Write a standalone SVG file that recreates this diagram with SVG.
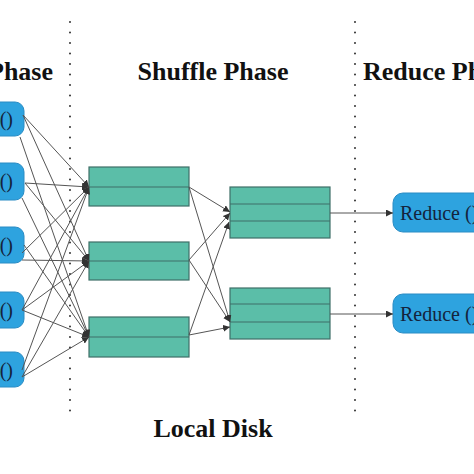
<svg xmlns="http://www.w3.org/2000/svg" width="474" height="474" viewBox="0 0 474 474">
<style>
.title{font-family:"Liberation Serif",serif;font-weight:bold;font-size:26px;fill:#111}
.node{fill:#2ea3df;stroke:#2a8cc4;stroke-width:1}
.lbl{font-family:"Liberation Serif",serif;font-size:20px;fill:#14243c}
.box{fill:#5bbea8;stroke:#3f6f68;stroke-width:1.2}
.div{stroke:#3f6f68;stroke-width:1.2}
.dot{stroke:#333;stroke-width:2;stroke-dasharray:0.1 10.4;stroke-linecap:round}
.c{stroke:#555;stroke-width:1;fill:none;marker-end:url(#ah)}
</style>
<defs>
<marker id="ah" viewBox="0 0 10 10" refX="10" refY="5" markerWidth="7" markerHeight="7" orient="auto" markerUnits="userSpaceOnUse">
<path d="M0,0 L10,5 L0,10 z" fill="#333"/>
</marker>
</defs>
<rect width="474" height="474" fill="#fff"/>
<line class="dot" x1="70" y1="22" x2="70" y2="412"/>
<line class="dot" x1="355" y1="22" x2="355" y2="412"/>
<text class="title" x="53" y="80" text-anchor="end">Map Phase</text>
<text class="title" x="213" y="80" text-anchor="middle">Shuffle Phase</text>
<text class="title" x="363" y="80">Reduce Phase</text>
<text class="title" x="213" y="437" text-anchor="middle">Local Disk</text>
<g id="map1"><rect class="node" x="-40" y="102" width="64" height="34" rx="9"/><text class="lbl" x="13" y="126" text-anchor="end">Map ()</text></g>
<g id="map2"><rect class="node" x="-40" y="163" width="64" height="37" rx="9"/><text class="lbl" x="13" y="188" text-anchor="end">Map ()</text></g>
<g id="map3"><rect class="node" x="-40" y="227" width="64" height="36" rx="9"/><text class="lbl" x="13" y="252" text-anchor="end">Map ()</text></g>
<g id="map4"><rect class="node" x="-40" y="292" width="64" height="36" rx="9"/><text class="lbl" x="13" y="317" text-anchor="end">Map ()</text></g>
<g id="map5"><rect class="node" x="-40" y="352" width="64" height="35" rx="9"/><text class="lbl" x="13" y="377" text-anchor="end">Map ()</text></g>
<g id="disk1"><rect class="box" x="89" y="167" width="100" height="39"/><line class="div" x1="89" y1="187" x2="189" y2="187"/></g>
<g id="disk2"><rect class="box" x="89" y="242" width="100" height="38"/><line class="div" x1="89" y1="261" x2="189" y2="261"/></g>
<g id="disk3"><rect class="box" x="89" y="317" width="100" height="40"/><line class="div" x1="89" y1="337" x2="189" y2="337"/></g>
<g id="part1"><rect class="box" x="230" y="187" width="100" height="51"/><line class="div" x1="230" y1="204" x2="330" y2="204"/><line class="div" x1="230" y1="221" x2="330" y2="221"/></g>
<g id="part2"><rect class="box" x="230" y="288" width="100" height="51"/><line class="div" x1="230" y1="304" x2="330" y2="304"/><line class="div" x1="230" y1="322" x2="330" y2="322"/></g>
<g id="reduce1"><rect class="node" x="393" y="193" width="120" height="39" rx="10"/><text class="lbl" x="400" y="220">Reduce ()</text></g>
<g id="reduce2"><rect class="node" x="393" y="294" width="120" height="39" rx="10"/><text class="lbl" x="400" y="321">Reduce ()</text></g>
<g id="connectors">
<path class="c" d="M23,115 L89,187"/>
<path class="c" d="M23,115 L89,261"/>
<path class="c" d="M20,137 L89,337"/>
<path class="c" d="M25,183 L89,187"/>
<path class="c" d="M25,183 L89,261"/>
<path class="c" d="M22,198 L89,337"/>
<path class="c" d="M22,253 L89,187"/>
<path class="c" d="M22,260 L89,261"/>
<path class="c" d="M24,245 L89,337"/>
<path class="c" d="M22,310 L89,187"/>
<path class="c" d="M22,310 L89,261"/>
<path class="c" d="M22,310 L89,337"/>
<path class="c" d="M22,377 L89,261"/>
<path class="c" d="M22,377 L89,337"/>
<path class="c" d="M22,370 L89,187"/>
<path class="c" d="M189,187 L230,212"/>
<path class="c" d="M189,187 L230,322"/>
<path class="c" d="M189,260 L230,213"/>
<path class="c" d="M189,260 L230,322"/>
<path class="c" d="M189,335 L229,222"/>
<path class="c" d="M189,335 L230,327"/>
<path class="c" d="M330,213 L393,213"/>
<path class="c" d="M330,314 L393,314"/>
</g>
</svg>
